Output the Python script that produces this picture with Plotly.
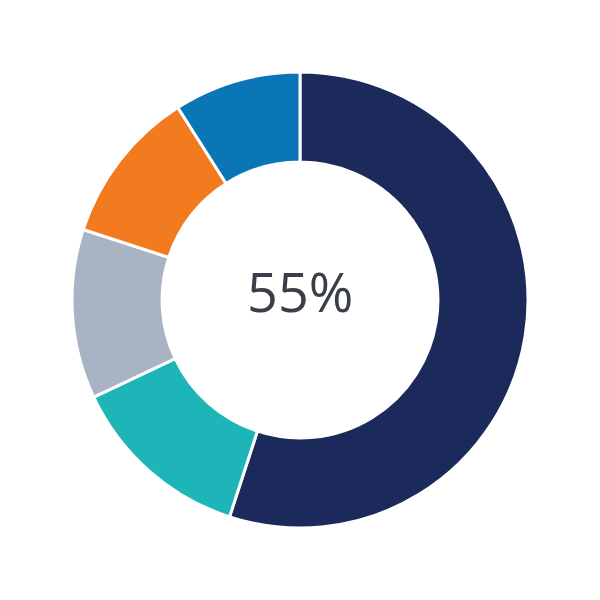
import plotly.graph_objects as go

labels = ["A", "B", "C", "D", "E"]
values = [55, 13, 12, 11, 9]
colors = ["#1b2a5a", "#1db5b8", "#a8b3c3", "#f27b20", "#0a76b6"]
center_text = "55%"

fig = go.Figure(go.Pie(
    labels=labels,
    values=values,
    hole=0.605,
    sort=False,
    direction="clockwise",
    rotation=0,
    marker=dict(colors=colors, line=dict(color="white", width=3)),
    textinfo="none",
    hoverinfo="label+percent",
    showlegend=False,
))
fig.add_annotation(text=center_text, x=0.5, y=0.5, xref="paper", yref="paper",
                   showarrow=False, yshift=9,
                   font=dict(family="Open Sans", size=54, color="#3a3f47"))
fig.update_layout(width=584, height=584, margin=dict(l=64, r=64, t=64, b=64),
                  paper_bgcolor="white", plot_bgcolor="white")
fig.write_html("out.html")
